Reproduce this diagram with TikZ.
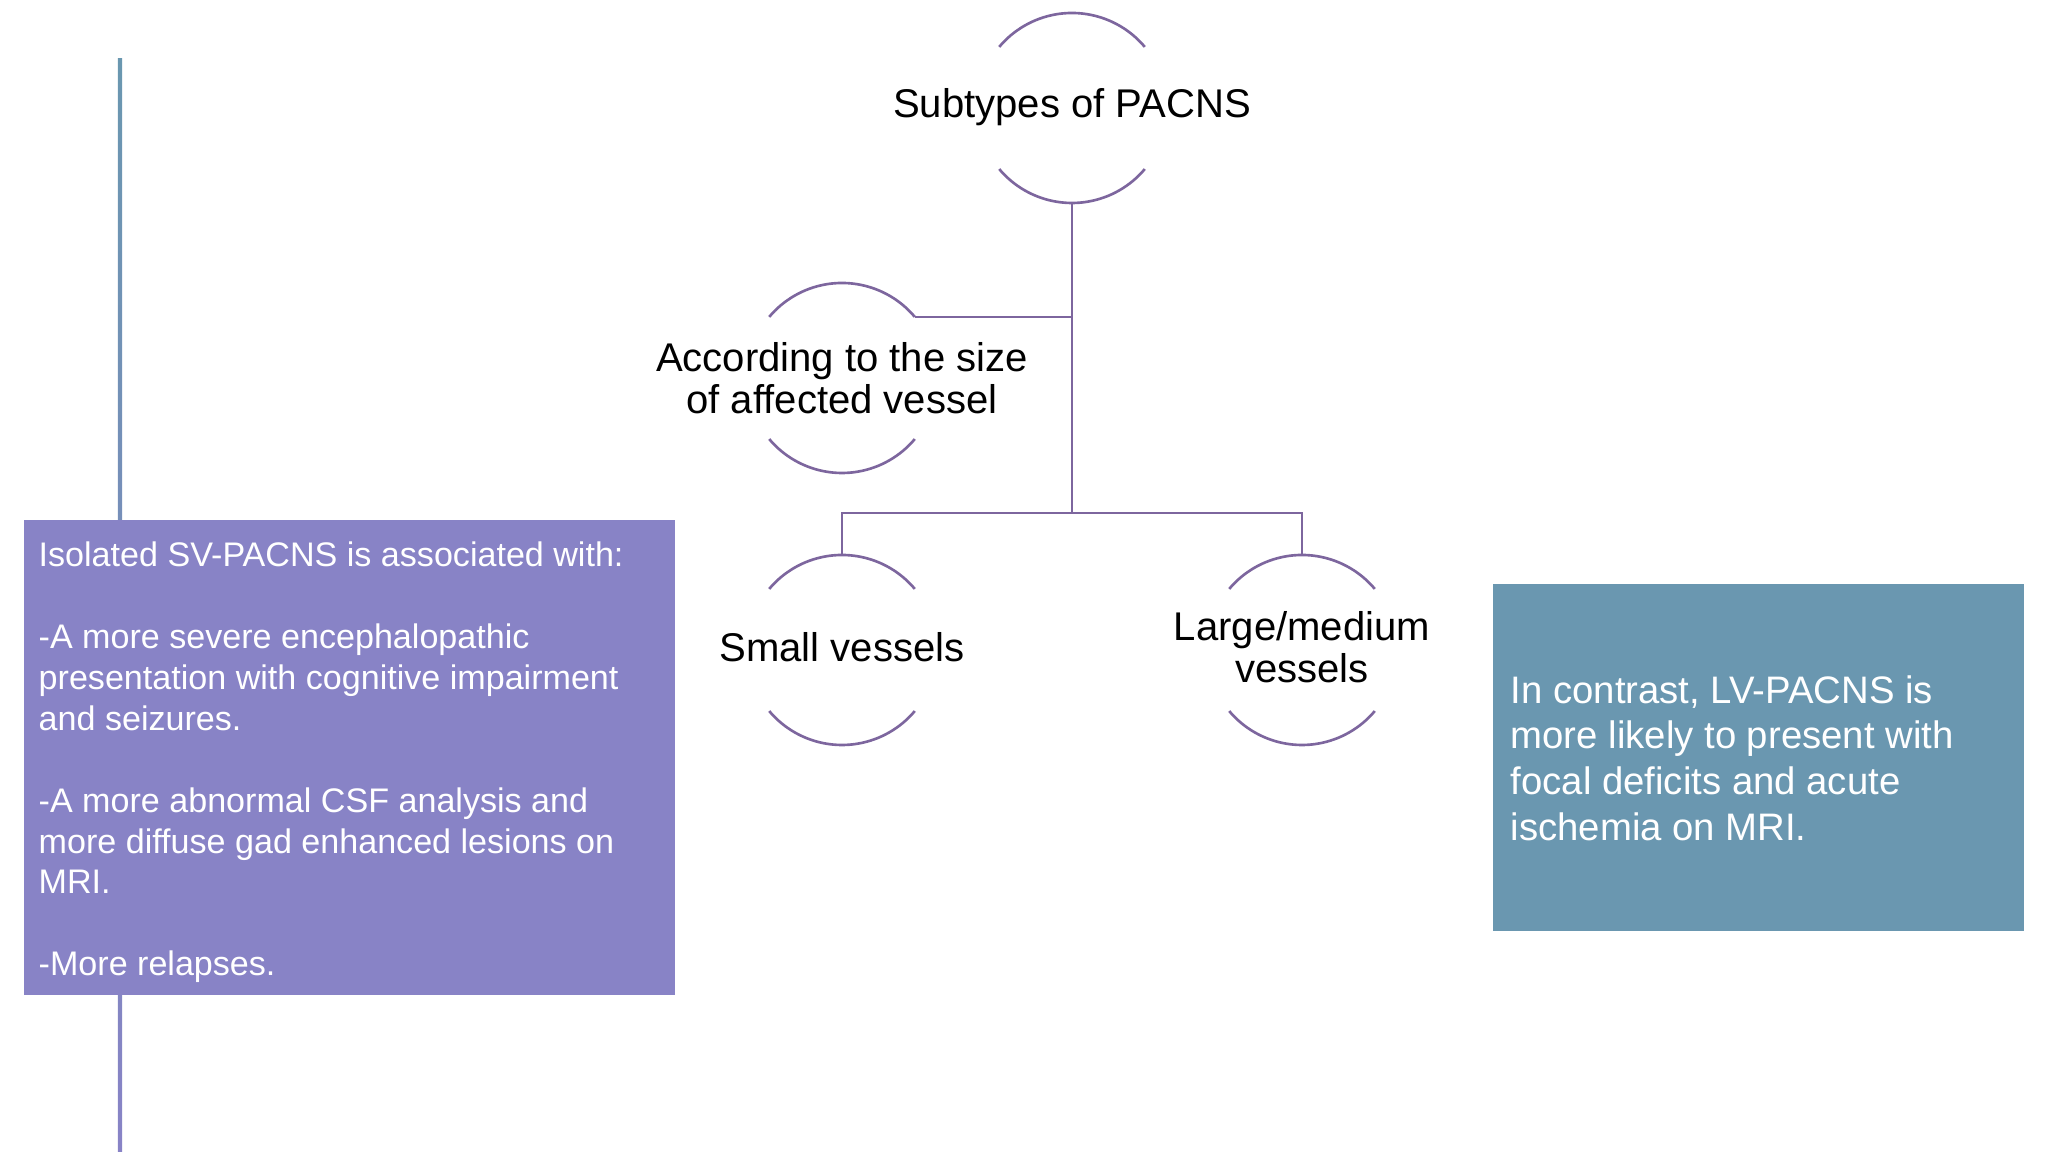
\documentclass[tikz,border=0pt]{standalone}
\usepackage{fontspec}
\setmainfont{Liberation Sans}
\usepackage{tikz}

\definecolor{linkpurple}{RGB}{125,102,158}
\definecolor{boxpurple}{RGB}{136,131,198}
\definecolor{boxblue}{RGB}{106,151,176}

\begin{document}
\begin{tikzpicture}[
    ring/.style={circle,minimum size=1.9cm,inner sep=0pt,outer sep=0pt},
    link/.style={draw=linkpurple,line width=0.75pt},
    label/.style={align=center,font=\fontsize{11.4}{12.1}\selectfont}]
    \useasboundingbox (0,0) rectangle (20.48,11.52);
    % left rule, blue at the top, purple at the bottom
    \shade[top color=boxblue,bottom color=boxpurple] (1.178,0) rectangle (1.222,10.93);
    % the four rings
    \node[ring] (top) at (10.72,10.44) {};
    \node[ring] (according) at (8.42,7.74) {};
    \node[ring] (small) at (8.42,5.02) {};
    \node[ring] (large) at (13.02,5.02) {};
    \foreach \n in {top,according,small,large}
    {
    \draw[link] (\n.40) arc[start angle=40,end angle=140,radius=0.95cm];
    \draw[link] (\n.220) arc[start angle=220,end angle=320,radius=0.95cm];
    }
    \node[label] (top-text) at ([yshift=0.01cm]top) {Subtypes of PACNS};
    \node[label] (according-text) at (according) {According to the size\\of affected vessel};
    \node[label] (small-text) at ([yshift=0.03cm]small) {Small vessels};
    \node[label] (large-text) at ([yshift=0.03cm]large) {Large/medium\\vessels};
    % connectors
    \coordinate (split) at (10.72,6.39);
    \draw[link] (top.south) -- (split);
    \draw[link] (according.40) -- (according.40 -| top.south);
    \draw[link] (small.north) |- (split) -| (large.north);
    % side boxes
    \fill[boxpurple] (0.235,1.57) rectangle (6.75,6.32);
    \node[anchor=north west,inner sep=0pt,align=left,text=white,
      font=\fontsize{9.7}{11.65}\selectfont] (sv-text) at (0.38,6.11)
      {Isolated SV-PACNS is associated with:\\[11.65pt]
       -A more severe encephalopathic\\
       presentation with cognitive impairment\\
       and seizures.\\[11.65pt]
       -A more abnormal CSF analysis and\\
       more diffuse gad enhanced lesions on\\
       MRI.\\[11.65pt]
       -More relapses.};
    \fill[boxblue] (14.93,2.21) rectangle (20.24,5.68);
    \node[anchor=west,inner sep=0pt,align=left,text=white,
      font=\fontsize{10.9}{13}\selectfont] (lv-text) at (15.10,3.94)
      {In contrast, LV-PACNS is\\
       more likely to present with\\
       focal deficits and acute\\
       ischemia on MRI.};
  \end{tikzpicture}
\end{document}
